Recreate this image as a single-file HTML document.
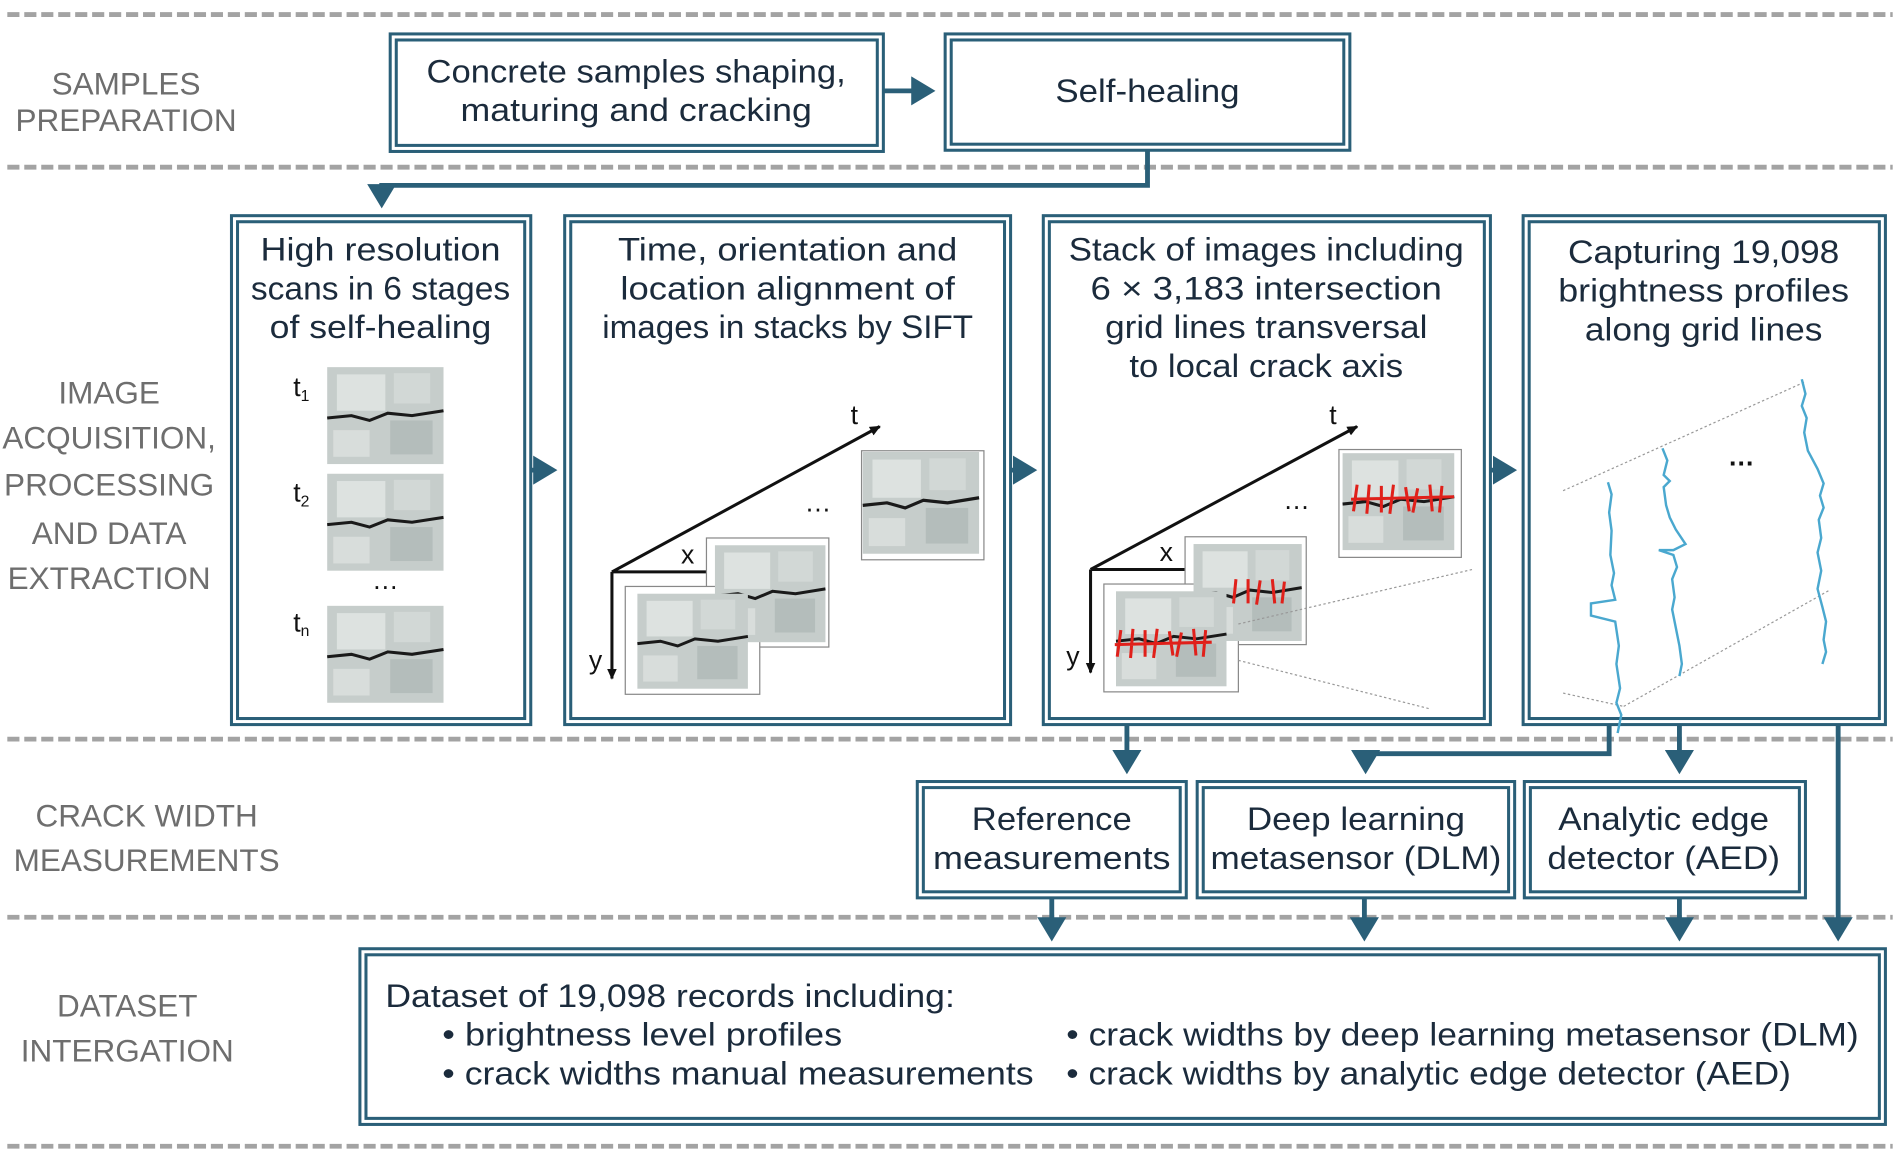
<!DOCTYPE html>
<html><head><meta charset="utf-8"><style>
html,body{margin:0;padding:0;background:#fff;}
svg{display:block;}
text{font-family:"Liberation Sans",sans-serif;}
.t{fill:#1b2b3c;font-size:27px;text-anchor:middle;}
.l{fill:#6e6e6e;font-size:26px;text-anchor:middle;}
.d{fill:#1b2b3c;font-size:27px;}
.ax{fill:#111;font-size:22px;}
</style></head><body>
<svg width="1900" height="1158" viewBox="0 0 1568 955.7" xmlns="http://www.w3.org/2000/svg">
<defs>
<marker id="ar" markerWidth="6" markerHeight="6" refX="4" refY="3" orient="auto" markerUnits="strokeWidth"><path d="M0,0 L5,3 L0,6 z" fill="#2a5f78"/></marker>
<marker id="ak" markerWidth="10" markerHeight="10" refX="8" refY="4" orient="auto" markerUnits="userSpaceOnUse"><path d="M0,0 L9,4 L0,8 z" fill="#111"/></marker>
<g id="img"><rect width="96" height="80" fill="#c6cdcb"/><rect x="8" y="6" width="40" height="30" fill="#dde2e0"/><rect x="52" y="44" width="35" height="28" fill="#b4bdbb"/><rect x="5" y="52" width="30" height="22" fill="#d8dddb"/><rect x="55" y="5" width="30" height="25" fill="#d2d8d6"/><path d="M0,42 L20,40 L35,44 L50,38 L70,40 L96,36" stroke="#1a1a1a" stroke-width="2.5" fill="none"/></g>
</defs>
<g stroke="#a3a3a3" stroke-width="4" stroke-dasharray="10,4">
<line x1="6" y1="12" x2="1562" y2="12"/><line x1="6" y1="138" x2="1562" y2="138"/><line x1="6" y1="610" x2="1562" y2="610"/><line x1="6" y1="757" x2="1562" y2="757"/><line x1="6" y1="946" x2="1562" y2="946"/>
</g>
<g fill="none" stroke="#2a5f78">
<g stroke-width="2.5">
<rect x="322" y="28" width="407" height="97"/><rect x="780" y="28" width="334" height="96"/>
<rect x="191" y="178" width="247" height="420"/><rect x="466" y="178" width="368" height="420"/><rect x="861" y="178" width="369" height="420"/><rect x="1257" y="178" width="299" height="420"/>
<rect x="757" y="645" width="222" height="96"/><rect x="988" y="645" width="262" height="96"/><rect x="1258" y="645" width="232" height="96"/>
<rect x="297" y="783" width="1259" height="145"/>
</g>
<g stroke-width="2.5">
<rect x="327" y="33" width="397" height="87"/><rect x="785" y="33" width="324" height="86"/>
<rect x="196" y="183" width="237" height="410"/><rect x="471" y="183" width="358" height="410"/><rect x="866" y="183" width="359" height="410"/><rect x="1262" y="183" width="289" height="410"/>
<rect x="762" y="650" width="212" height="86"/><rect x="993" y="650" width="252" height="86"/><rect x="1263" y="650" width="222" height="86"/>
<rect x="302" y="788" width="1249" height="135"/>
</g>
<g stroke-width="4" marker-end="url(#ar)">
<line x1="729" y1="75" x2="768" y2="75"/>
<polyline points="947,125 947,153 315,153 315,168"/>
<line x1="438" y1="388" x2="456" y2="388"/><line x1="834" y1="388" x2="852" y2="388"/><line x1="1230" y1="388" x2="1248" y2="388"/>
<line x1="930" y1="598" x2="930" y2="635"/>
<polyline points="1328,598 1328,622 1127,622 1127,635"/>
<line x1="1386" y1="598" x2="1386" y2="635"/>
<line x1="1517" y1="598" x2="1517" y2="773"/>
<line x1="868" y1="741" x2="868" y2="773"/><line x1="1126" y1="741" x2="1126" y2="773"/><line x1="1386" y1="741" x2="1386" y2="773"/>
</g>
</g>
<text class="l" x="104" y="78">SAMPLES</text><text class="l" x="104" y="108">PREPARATION</text>
<text class="l" x="90" y="333">IMAGE</text><text class="l" x="90" y="370">ACQUISITION,</text><text class="l" x="90" y="409">PROCESSING</text><text class="l" x="90" y="449">AND DATA</text><text class="l" x="90" y="486">EXTRACTION</text>
<text class="l" x="121" y="682">CRACK WIDTH</text><text class="l" x="121" y="719">MEASUREMENTS</text>
<text class="l" x="105" y="839">DATASET</text><text class="l" x="105" y="876">INTERGATION</text>
<text class="t" x="525" y="68" textLength="346" lengthAdjust="spacingAndGlyphs">Concrete samples shaping,</text>
<text class="t" x="525" y="100" textLength="290" lengthAdjust="spacingAndGlyphs">maturing and cracking</text>
<text class="t" x="947" y="84" textLength="152" lengthAdjust="spacingAndGlyphs">Self-healing</text>
<text class="t" x="314" y="215" textLength="198" lengthAdjust="spacingAndGlyphs">High resolution</text>
<text class="t" x="314" y="247" textLength="214" lengthAdjust="spacingAndGlyphs">scans in 6 stages</text>
<text class="t" x="314" y="279" textLength="183" lengthAdjust="spacingAndGlyphs">of self-healing</text>
<text class="t" x="650" y="215" textLength="280" lengthAdjust="spacingAndGlyphs">Time, orientation and</text>
<text class="t" x="650" y="247" textLength="276" lengthAdjust="spacingAndGlyphs">location alignment of</text>
<text class="t" x="650" y="279" textLength="306" lengthAdjust="spacingAndGlyphs">images in stacks by SIFT</text>
<text class="t" x="1045" y="215" textLength="326" lengthAdjust="spacingAndGlyphs">Stack of images including</text>
<text class="t" x="1045" y="247" textLength="290" lengthAdjust="spacingAndGlyphs">6 × 3,183 intersection</text>
<text class="t" x="1045" y="279" textLength="266" lengthAdjust="spacingAndGlyphs">grid lines transversal</text>
<text class="t" x="1045" y="311" textLength="226" lengthAdjust="spacingAndGlyphs">to local crack axis</text>
<text class="t" x="1406" y="217" textLength="224" lengthAdjust="spacingAndGlyphs">Capturing 19,098</text>
<text class="t" x="1406" y="249" textLength="240" lengthAdjust="spacingAndGlyphs">brightness profiles</text>
<text class="t" x="1406" y="281" textLength="196" lengthAdjust="spacingAndGlyphs">along grid lines</text>
<text class="t" x="868" y="685" textLength="132" lengthAdjust="spacingAndGlyphs">Reference</text>
<text class="t" x="868" y="717" textLength="196" lengthAdjust="spacingAndGlyphs">measurements</text>
<text class="t" x="1119" y="685" textLength="180" lengthAdjust="spacingAndGlyphs">Deep learning</text>
<text class="t" x="1119" y="717" textLength="240" lengthAdjust="spacingAndGlyphs">metasensor (DLM)</text>
<text class="t" x="1373" y="685" textLength="174" lengthAdjust="spacingAndGlyphs">Analytic edge</text>
<text class="t" x="1373" y="717" textLength="192" lengthAdjust="spacingAndGlyphs">detector (AED)</text>
<text class="d" x="318" y="831" textLength="470" lengthAdjust="spacingAndGlyphs">Dataset of 19,098 records including:</text>
<text class="d" x="365" y="863" textLength="330" lengthAdjust="spacingAndGlyphs">• brightness level profiles</text>
<text class="d" x="365" y="895" textLength="488" lengthAdjust="spacingAndGlyphs">• crack widths manual measurements</text>
<text class="d" x="880" y="863" textLength="654" lengthAdjust="spacingAndGlyphs">• crack widths by deep learning metasensor (DLM)</text>
<text class="d" x="880" y="895" textLength="598" lengthAdjust="spacingAndGlyphs">• crack widths by analytic edge detector (AED)</text>
<use href="#img" x="270" y="303"/><use href="#img" x="270" y="391"/><use href="#img" x="270" y="500"/>
<text class="ax" x="242" y="327">t<tspan font-size="13" dy="4">1</tspan></text>
<text class="ax" x="242" y="414">t<tspan font-size="13" dy="4">2</tspan></text>
<text class="ax" x="242" y="521">t<tspan font-size="13" dy="4">n</tspan></text>
<text class="ax" x="318" y="486" text-anchor="middle">…</text>
<g stroke="#111" stroke-width="2.5" fill="none">
<line x1="505" y1="472" x2="726" y2="352" marker-end="url(#ak)"/><line x1="505" y1="472" x2="598" y2="472" marker-end="url(#ak)"/><line x1="505" y1="472" x2="505" y2="560" marker-end="url(#ak)"/>
<line x1="900" y1="470" x2="1120" y2="352" marker-end="url(#ak)"/><line x1="900" y1="470" x2="993" y2="470" marker-end="url(#ak)"/><line x1="900" y1="470" x2="900" y2="555" marker-end="url(#ak)"/>
</g>
<text class="ax" x="702" y="350">t</text><text class="ax" x="562" y="465">x</text><text class="ax" x="486" y="552">y</text>
<text class="ax" x="1097" y="350">t</text><text class="ax" x="957" y="463">x</text><text class="ax" x="880" y="549">y</text>
<text class="ax" x="675" y="422" text-anchor="middle">…</text><text class="ax" x="1070" y="420" text-anchor="middle">…</text>
<g stroke="#888" stroke-width="1" fill="#fff">
<rect x="711" y="372" width="101" height="90"/><rect x="583" y="444" width="101" height="90"/><rect x="516" y="484" width="111" height="89"/>
<rect x="1105" y="371" width="101" height="89"/><rect x="978" y="443" width="100" height="89"/><rect x="911" y="482" width="111" height="89"/>
</g>
<use href="#img" transform="translate(712,373) scale(1.0,1.05)"/><use href="#img" transform="translate(590,450) scale(0.95,1.0)"/><use href="#img" transform="translate(526,490) scale(0.95,0.98)"/>
<use href="#img" transform="translate(1108,374) scale(0.96,1.0)"/><use href="#img" transform="translate(985,449) scale(0.93,1.0)"/><use href="#img" transform="translate(921,488) scale(0.95,0.98)"/>
<g stroke="#e0201a" stroke-width="2.5">
<path d="M1120,400 l-3,22 M1130,400 l-2,24 M1140,401 l0,22 M1150,400 l-3,24 M1160,402 l3,20 M1170,403 l-4,20 M1180,400 l2,22 M1190,401 l-2,22 M1115,412 L1200,410"/>
<path d="M925,520 l-3,22 M935,519 l-2,24 M945,520 l0,22 M955,519 l-3,24 M965,521 l3,20 M975,522 l-4,20 M985,519 l2,22 M995,520 l-2,22 M920,532 L1000,530"/>
<path d="M1020,478 l-2,20 M1030,478 l0,20 M1040,479 l-3,20 M1050,478 l2,20 M1060,480 l-2,18"/>
</g>
<g stroke="#999" stroke-width="1" stroke-dasharray="2,2"><line x1="1022" y1="515" x2="1215" y2="470"/><line x1="1022" y1="545" x2="1180" y2="585"/></g>
<g stroke="#999" stroke-width="1" stroke-dasharray="2,2" fill="none"><line x1="1290" y1="405" x2="1490" y2="315"/><line x1="1290" y1="572" x2="1340" y2="583"/><line x1="1340" y1="583" x2="1510" y2="487"/></g>
<g stroke="#4aa8cf" stroke-width="2" fill="none">
<path d="M1327,398 l3,10 l-2,15 l2,15 l-1,20 l3,15 l-2,10 l3,12 l-20,3 l0,10 l20,5 l3,20 l-2,15 l3,20 l-3,12 l4,10 l-3,15"/>
<path d="M1372,370 l4,10 l-3,12 l5,5 l-5,5 l2,15 l3,10 l5,10 l8,12 l-10,5 l-12,0 l12,4 l3,10 l-4,10 l2,15 l-2,10 l3,15 l3,15 l2,15 l-2,10"/>
<path d="M1487,313 l3,12 l-3,10 l4,10 l-2,12 l3,15 l8,15 l5,12 l-3,10 l3,10 l-4,10 l2,15 l-3,12 l3,15 l-3,15 l4,15 l3,12 l-2,15 l2,10 l-3,10"/>
</g>
<text class="ax" x="1437" y="384" text-anchor="middle" font-weight="bold">…</text>
</svg>
</body></html>
